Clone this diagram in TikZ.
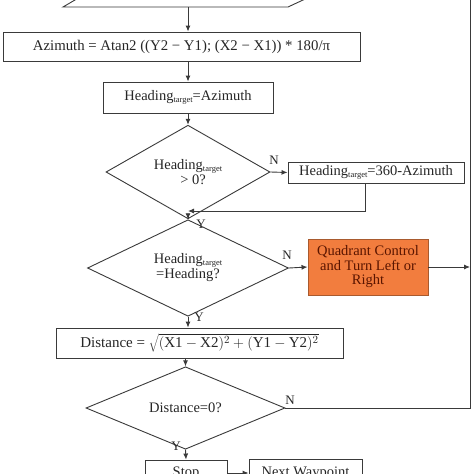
\documentclass[tikz,border=0pt]{standalone}
\usepackage{fontspec}
\setmainfont{Liberation Serif}
\usetikzlibrary{shapes.geometric,arrows.meta}
\newcommand\tgsub{\raisebox{-2pt}{\fontsize{8.5}{9}\selectfont target}}
\definecolor{lncol}{HTML}{3A3A3A}
\definecolor{orfill}{HTML}{F27D3E}
\definecolor{ordraw}{HTML}{A85A2E}
\definecolor{ortext}{HTML}{5A1500}
\begin{document}
\begin{tikzpicture}[x=1pt,y=-1pt,
  ln/.style={draw=lncol,line width=0.9pt},
  arr/.style={ln,-{Latex[length=6pt,width=5pt]}},
  boxn/.style={ln,rectangle,inner sep=0pt,align=center,font=\fontsize{14.5}{14.5}\selectfont,text=black!85},
  dia/.style={ln,diamond,inner sep=0pt,align=center,font=\fontsize{14.5}{15}\selectfont,text=black!85},
  lab/.style={font=\fontsize{13}{13}\selectfont,text=black!85,inner sep=1pt}]
\useasboundingbox (0,0) rectangle (474,474);
\fill[white] (0,0) rectangle (474,474);
\clip (0,0) rectangle (474,474);
% input parallelogram (cut off at top)
\draw[ln] (109,-20) -- (63,7) -- (288,7) -- (346,-20);
\coordinate (pin) at (188,7);
% nodes
\node[boxn,minimum width=357pt,minimum height=29pt,font=\fontsize{14.8}{14.8}\selectfont] (az) at (181.5,46.5)
  {Azimuth = Atan2 ((Y2 − Y1); (X2 − X1)) * 180/π};
\node[boxn,minimum width=170pt,minimum height=31pt] (ht) at (188,97.5) {Heading\tgsub=Azimuth};
\node[dia,minimum width=164pt,minimum height=74pt] (d1) at (188,172) {Heading\tgsub\\\hspace*{10pt}> 0?};
\node[boxn,minimum width=176pt,minimum height=21pt] (h360) at (376,172.5) {Heading\tgsub=360-Azimuth};
\coordinate (j) at (188,211);
\node[dia,minimum width=201pt,minimum height=75pt] (d2) at (188,268) {Heading\tgsub\\=Heading?};
\node[boxn,draw=ordraw,fill=orfill,text=ortext,minimum width=120pt,minimum height=56pt] (quad) at (368,267)
  {Quadrant Control\\and Turn Left or\\Right};
\node[boxn,minimum width=287pt,minimum height=30pt,font=\fontsize{15}{15}\selectfont] (dist) at (199.5,343)
  {Distance = $\sqrt{(\mathrm{X1}-\mathrm{X2})^2+(\mathrm{Y1}-\mathrm{Y2})^2}$};
\node[dia,minimum width=199pt,minimum height=57pt] (d3) at (185.5,408) {Distance=0?};
\node[boxn,minimum width=82pt,minimum height=26pt] (stop) at (186,473) {Stop};
\node[boxn,minimum width=113pt,minimum height=28pt] (next) at (305.5,473) {Next Waypoint};
\coordinate (rc) at (470,408);
% connectors
\draw[arr] (pin) -- (pin |- az.north);
\draw[arr] (az.south -| ht.north) -- (ht.north);
\draw[arr] (ht.south) -- (d1.north);
\draw[arr] (d1.east) -- (h360.west);
\draw[arr] ([xshift=-11pt]h360.south) |- (j);
\draw[arr] (d1.south) -- (d2.north);
\draw[arr] (d2.east) -- (quad.west);
\draw[arr] (quad.east) -- (quad.east -| rc);
\draw[arr] (d2.south) -- (d2.south |- dist.north);
\draw[arr] (dist.south -| d3.north) -- (d3.north);
\draw[ln] (d3.east) -- (rc) -- (470,-10);
\draw[arr] (d3.south) -- (stop.north);
\draw[arr] (stop.east) -- (next.west);
% labels
\node[lab] (n1) at (274,160) {N};
\node[lab] (y1) at (201,224) {Y};
\node[lab] (n2) at (287,255) {N};
\node[lab] (y2) at (199,317) {Y};
\node[lab] (n3) at (290,400) {N};
\node[lab] (y3) at (176,446) {Y};
\end{tikzpicture}
\end{document}
